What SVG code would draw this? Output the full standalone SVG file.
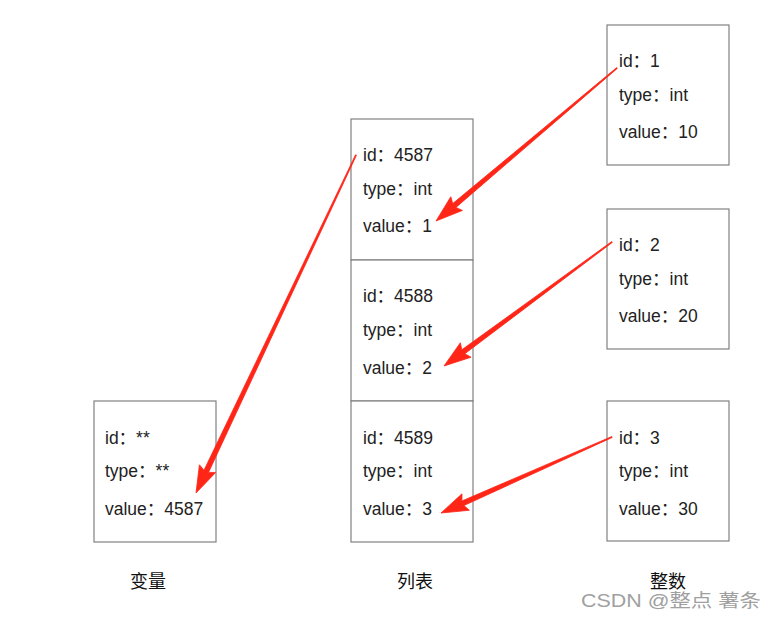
<svg xmlns="http://www.w3.org/2000/svg" width="776" height="619" viewBox="0 0 776 619">
<style>
.box{fill:#fff;stroke:#808080;stroke-width:1.2}
.t{font-family:"Liberation Sans","Noto Sans CJK SC",sans-serif;font-size:17.5px;fill:#222}
.lbl{font-family:"Liberation Sans","Noto Sans CJK SC",sans-serif;font-size:18px;fill:#111}
.wm{font-family:"Liberation Sans","Noto Sans CJK SC",sans-serif;font-size:18px;fill:#a0a0a0}
.arr{fill:#ff2618;stroke:#ff2618;stroke-width:0.8;stroke-linejoin:round}
</style>
<rect width="776" height="619" fill="#fff"/>
<g id="var">
<rect class="box" x="94" y="401" width="122" height="141"/>
<text class="t" x="105" y="444">id：**</text>
<text class="t" x="105" y="477">type：**</text>
<text class="t" x="105" y="515">value：4587</text>
</g>
<g id="list0">
<rect class="box" x="351" y="119" width="122" height="141"/>
<text class="t" x="363" y="161">id：4587</text>
<text class="t" x="363" y="195">type：int</text>
<text class="t" x="363" y="232">value：1</text>
</g>
<g id="list1">
<rect class="box" x="351" y="260" width="122" height="141"/>
<text class="t" x="363" y="302">id：4588</text>
<text class="t" x="363" y="336">type：int</text>
<text class="t" x="363" y="374">value：2</text>
</g>
<g id="list2">
<rect class="box" x="351" y="401" width="122" height="141"/>
<text class="t" x="363" y="444">id：4589</text>
<text class="t" x="363" y="477">type：int</text>
<text class="t" x="363" y="515">value：3</text>
</g>
<g id="int1">
<rect class="box" x="607" y="25" width="122" height="140"/>
<text class="t" x="619" y="67">id：1</text>
<text class="t" x="619" y="101">type：int</text>
<text class="t" x="619" y="138">value：10</text>
</g>
<g id="int2">
<rect class="box" x="607" y="209" width="122" height="140"/>
<text class="t" x="619" y="251">id：2</text>
<text class="t" x="619" y="285">type：int</text>
<text class="t" x="619" y="322">value：20</text>
</g>
<g id="int3">
<rect class="box" x="607" y="401" width="122" height="140"/>
<text class="t" x="619" y="444">id：3</text>
<text class="t" x="619" y="477">type：int</text>
<text class="t" x="619" y="515">value：30</text>
</g>
<g id="labels">
<text class="lbl" x="130" y="588">变量</text>
<text class="lbl" x="397" y="588">列表</text>
<text class="lbl" x="650" y="588">整数</text>
<text class="wm" x="581" y="607" textLength="180" lengthAdjust="spacingAndGlyphs">CSDN @整点 薯条</text>
</g>
<g id="connectors">
<polygon class="arr" points="356.45,155.21 208.53,472.38 215.69,472.45 196,493 199.42,464.75 204.01,470.24 355.55,154.79"/>
<polygon class="arr" points="617.32,68.38 455.94,207.42 462.43,210.44 436,221 450.81,196.70 452.72,203.60 616.68,67.62"/>
<polygon class="arr" points="612.30,242.40 464.79,353.76 471.07,357.21 444,366 460.37,342.73 461.83,349.74 611.70,241.60"/>
<polygon class="arr" points="612.20,437.46 463.95,505.53 469.33,510.26 441,513 462.01,493.80 461.91,500.97 611.80,436.54"/>
</g>
</svg>
